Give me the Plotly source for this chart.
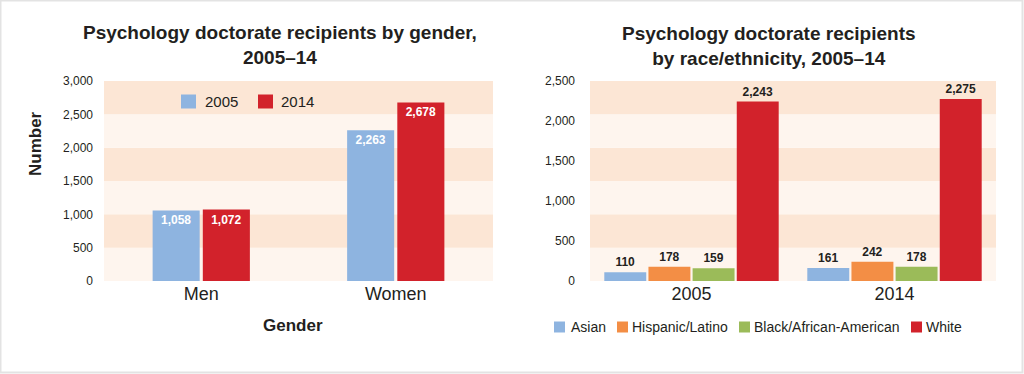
import plotly.graph_objects as go

# ---- data ----
genders = ["Men", "Women"]
gender_2005 = [1058, 2263]
gender_2014 = [1072, 2678]

years = ["2005", "2014"]
asian = [110, 161]
hispanic = [178, 242]
black = [159, 178]
white = [2243, 2275]

left_ticks = [0, 500, 1000, 1500, 2000, 2500, 3000]
right_ticks = [0, 500, 1000, 1500, 2000, 2500]

left_series = ["2005", "2014"]
right_series = ["Asian", "Hispanic/Latino", "Black/African-American", "White"]

BLUE = "#8EB4E0"
RED = "#D2222B"
ORANGE = "#F38E45"
GREEN = "#9BBB59"
DARK = "#231F20"
BAND_D = "#FCE6D5"
BAND_L = "#FEF5EE"
FONT = "Liberation Sans"

W, H = 1024, 374


def px(x):
    return x / W


def py(y):
    return 1 - y / H


fig = go.Figure()

# left chart
for name, vals, col, off in [(left_series[0], gender_2005, BLUE, -0.25),
                             (left_series[1], gender_2014, RED, 0.008)]:
    fig.add_trace(go.Bar(
        x=genders, y=vals, name=name, marker_color=col,
        marker_line_width=0, offset=off, width=0.242,
        text=[f"{v:,}" for v in vals], textposition="inside",
        insidetextanchor="end", textangle=0,
        textfont=dict(color="white", size=12, family=FONT, weight="bold"),
        xaxis="x", yaxis="y", showlegend=False,
    ))

# right chart
right_vals = [asian, hispanic, black, white]
right_cols = [BLUE, ORANGE, GREEN, RED]
for name, vals, col in zip(right_series, right_vals, right_cols):
    fig.add_trace(go.Bar(
        x=years, y=vals, name=name, marker_color=col, marker_line_width=0,
        text=[f"{v:,}" for v in vals], textposition="outside", textangle=0,
        textfont=dict(color=DARK, size=12, family=FONT, weight="bold"),
        cliponaxis=False,
        xaxis="x2", yaxis="y2", showlegend=False,
    ))

shapes = []
for xr, yr in [("x domain", "y domain"), ("x2 domain", "y2 domain")]:
    for i in range(6):
        shapes.append(dict(type="rect", xref=xr, yref=yr, x0=0, x1=1,
                           y0=i / 6, y1=(i + 1) / 6, line_width=0, layer="below",
                           fillcolor=BAND_D if i % 2 == 1 else BAND_L))
shapes.append(dict(type="rect", xref="paper", yref="paper", x0=px(0.5), x1=px(1022.5),
                   y0=py(372.5), y1=py(0.5), line=dict(color="#E3E3E3", width=2)))

annotations = [
    dict(text="<b>Psychology doctorate recipients by gender,<br>2005–14</b>",
         x=px(280), y=py(20), xref="paper", yref="paper", showarrow=False,
         xanchor="center", yanchor="top", font=dict(size=19, color=DARK, family=FONT)),
    dict(text="<b>Psychology doctorate recipients<br>by race/ethnicity, 2005–14</b>",
         x=px(769), y=py(21), xref="paper", yref="paper", showarrow=False,
         xanchor="center", yanchor="top", font=dict(size=19, color=DARK, family=FONT)),
    dict(text="<b>Number</b>", x=px(35), y=py(144), xref="paper", yref="paper",
         showarrow=False, textangle=-90, xanchor="center", yanchor="middle",
         font=dict(size=17, color=DARK, family=FONT)),
    dict(text="<b>Gender</b>", x=px(293), y=py(325), xref="paper", yref="paper",
         showarrow=False, xanchor="center", yanchor="middle",
         font=dict(size=17, color=DARK, family=FONT)),
]

# legends (left: inside plot, right: below)
leg_left = [(181, 203, BLUE), (258, 279, RED)]
for (sx, tx, col), label in zip(leg_left, left_series):
    shapes.append(dict(type="rect", xref="paper", yref="paper", x0=px(sx), x1=px(sx + 15),
                       y0=py(108.5), y1=py(94.5), fillcolor=col, line_width=0))
    annotations.append(dict(text=label, x=px(tx), y=py(101.5), xref="paper", yref="paper",
                            showarrow=False, xanchor="left", yanchor="middle",
                            font=dict(size=15, color=DARK, family=FONT)))
leg_right = [(554, 569), (617, 630), (739, 752), (911, 924)]
for (sx, tx), label, col in zip(leg_right, right_series, right_cols):
    shapes.append(dict(type="rect", xref="paper", yref="paper", x0=px(sx), x1=px(sx + 11),
                       y0=py(332.5), y1=py(321.5), fillcolor=col, line_width=0))
    annotations.append(dict(text=label, x=px(tx), y=py(327), xref="paper", yref="paper",
                            showarrow=False, xanchor="left", yanchor="middle",
                            font=dict(size=14, color=DARK, family=FONT)))

tickfont = dict(size=12, color=DARK, family=FONT)
catfont = dict(size=18, color=DARK, family=FONT)

fig.update_layout(
    width=W, height=H,
    margin=dict(l=0, r=0, t=0, b=0, autoexpand=False),
    paper_bgcolor="white", plot_bgcolor="white",
    barmode="group", bargap=0.13, bargroupgap=0.05,
    showlegend=False,
    shapes=shapes, annotations=annotations,
    font=dict(family=FONT, color=DARK),
    xaxis=dict(domain=[px(104), px(493)], anchor="y", tickfont=catfont,
               showline=False, ticks="", showgrid=False, automargin=False),
    yaxis=dict(domain=[py(281), py(81)], anchor="x", range=[0, 3000],
               tickvals=left_ticks, tickformat=",", tickfont=tickfont, ticklabelstandoff=10,
               showgrid=False, zeroline=False, showline=False, ticks="", automargin=False),
    xaxis2=dict(domain=[px(590), px(996)], anchor="y2", tickfont=catfont, automargin=False,
                showline=False, ticks="", showgrid=False),
    yaxis2=dict(domain=[py(281), py(81)], anchor="x2", range=[0, 2500], automargin=False,
                tickvals=right_ticks, tickformat=",", tickfont=tickfont, ticklabelstandoff=14,
                showgrid=False, zeroline=False, showline=False, ticks=""),
)

fig.write_html("out.html", config={"displayModeBar": False},
               post_script="document.body.style.margin='0';document.body.style.overflow='hidden';")
